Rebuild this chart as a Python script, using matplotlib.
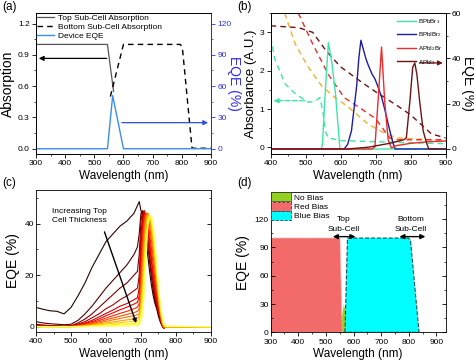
"""
plot.py

Four-panel figure: tandem sub-cell absorption / EQE (a), perovskite absorbance
and EQE (b), EQE vs top cell thickness (c) and bias-light EQE sketch (d).
"""

import matplotlib
matplotlib.use("Agg")
import matplotlib.pyplot as plt
from matplotlib.patches import Patch
from matplotlib.ticker import MultipleLocator

plt.rcParams["font.family"] = ["Liberation Sans", "DejaVu Sans"]
plt.rcParams["mathtext.default"] = "regular"

# ---------------- panel (a) ----------------
a_top_wl = [300, 545, 566]
a_top_abs = [1.0, 1.0, 0.55]
a_bot_wl = [555, 600, 795, 802, 835, 840, 900]
a_bot_abs = [0.5, 1.0, 1.0, 0.97, 0.01, 0.005, 0.005]
a_eqe_wl = [300, 545, 563, 600, 900]
a_eqe = [0, 0, 51, 0, 0]
a_left_arrow = [552, 300, 0.866]     # from, to, level (absorption)
a_right_arrow = [585, 900, 25]       # from, to, level (EQE %)

# ---------------- panel (b) ----------------
b_labels = ["BPbBr$_3$", "BPbIBr$_2$", "APbI$_2$Br", "APbI$_3$"]
b_colors = ["#3ce6a6", "#1c1ca8", "#ee2a2a", "#6e1414"]

b_abs_green_wl = [400, 412, 441, 470, 507, 527, 541, 550, 557, 565, 600, 700, 800, 900]
b_abs_green = [2.88, 2.3, 1.66, 1.4, 1.18, 1.2, 1.3, 0.9, 0.4, 0.25, 0.18, 0.15, 0.12, 0.1]
b_abs_orange_wl = [440, 470, 507, 546, 584, 622, 680, 720, 760, 900]
b_abs_orange = [3.5, 2.7, 2.1, 1.6, 1.3, 1.05, 0.6, 0.4, 0.25, 0.18]
b_abs_red_wl = [479, 520, 565, 610, 660, 700, 720, 740, 760, 900]
b_abs_red = [3.5, 2.7, 1.9, 1.3, 1.0, 0.75, 0.5, 0.25, 0.2, 0.2]
b_abs_maroon_wl = [400, 480, 520, 560, 600, 660, 700, 760, 800, 830, 860, 900]
b_abs_maroon = [3.17, 3.12, 3.0, 2.5, 2.1, 1.7, 1.45, 1.1, 0.85, 0.6, 0.35, 0.25]

b_eqe_green_wl = [400, 545, 548, 556, 565, 575, 585, 598, 900]
b_eqe_green = [0, 0, 2, 25, 47, 38, 25, 0, 0]
b_eqe_blue_wl = [400, 610, 620, 631, 646, 652, 658, 665, 672, 679, 690, 698, 708, 717,
                 727, 736, 744, 750, 756, 900]
b_eqe_blue = [0, 0, 2, 8, 28, 40, 48, 44, 40, 37, 33, 31, 27, 23, 17, 11, 6, 2.5, 0, 0]
b_eqe_red_wl = [400, 690, 698, 707, 717, 726, 736, 745, 760, 800, 850, 900]
b_eqe_red = [0, 0, 1, 21, 45, 21, 4, 0.5, 1.5, 2.5, 3.2, 3.5]
b_eqe_maroon_wl = [400, 620, 680, 740, 780, 788, 798, 806, 812, 818, 826, 836, 845,
                   852, 900]
b_eqe_maroon = [0, 0, 0.8, 2.5, 4, 5, 21, 36, 38, 33, 21, 8, 3, 0, 0]
b_green_arrow = [505, 400, 1.22]     # absorbance axis
b_maroon_arrow = [818, 900, 38]      # EQE axis

# ---------------- panel (c) ----------------
c_wl = [400, 420, 440, 460, 480, 500, 520, 540, 560, 580, 600, 620, 640, 660, 680, 690,
        695, 700, 705, 710, 715, 720, 725, 730, 735, 740, 745, 750, 755, 760, 765, 770, 900]
c_eqe = [
    [7.5, 6.8, 6.2, 6.0, 5.0, 7.5, 12, 17, 23, 28, 33, 36, 39, 41, 44, 47,
     48.5, 45, 43, 39, 33, 27, 21, 16, 12, 9, 7, 4, 2, 0.5, -0.5, 0, 0],
    [2.0, 1.5, 1.2, 1.0, 0.8, 1.0, 2.5, 5.0, 8.0, 11.5, 15, 18, 21, 24, 28, 31,
     36, 44, 45, 42, 37, 31, 25, 19, 14, 10, 7.5, 5, 2.5, 0.5, -0.5, 0, 0],
    [1.0, 0.7, 0.5, 0.4, 0.3, 0.4, 1.5, 3.0, 5.0, 7.5, 10, 12.5, 15, 17, 20, 21.5,
     28, 41, 45, 43, 38, 32, 26, 20, 15, 11, 8, 5, 2.5, 0.5, -0.5, 0, 0],
    [0.6, 0.4, 0.3, 0.2, 0.2, 0.3, 1.0, 2.0, 3.5, 5.0, 7.0, 8.5, 10.5, 12, 14, 15,
     20, 36, 44, 44, 40, 34, 28, 22, 17, 12, 9, 6, 3, 0.8, -0.5, 0, 0],
    [0.4, 0.3, 0.2, 0.2, 0.1, 0.2, 0.8, 1.5, 2.5, 3.8, 5.2, 6.5, 8.0, 9.0, 10.5, 11.3,
     15, 31, 42, 45, 42, 37, 31, 25, 19, 14, 10, 6.5, 3.5, 1, -0.5, 0, 0],
    [0.3, 0.2, 0.2, 0.1, 0.1, 0.2, 0.6, 1.2, 2.0, 3.0, 4.3, 5.4, 6.6, 7.6, 8.8, 9.5,
     12, 26, 39, 44, 43, 39, 33, 27, 21, 16, 11, 7, 4, 1, -0.5, 0, 0],
    [0.2, 0.2, 0.1, 0.1, 0.1, 0.1, 0.5, 1.0, 1.6, 2.4, 3.4, 4.3, 5.2, 6.0, 7.0, 7.6,
     9, 21, 35, 43, 44, 41, 36, 30, 24, 18, 13, 8, 4.5, 1.2, -0.5, 0, 0],
    [0.2, 0.1, 0.1, 0.1, 0.0, 0.1, 0.4, 0.8, 1.3, 1.9, 2.7, 3.4, 4.1, 4.8, 5.5, 6.0,
     7, 16, 30, 41, 44, 43, 39, 33, 27, 21, 15, 9.5, 5, 1.5, -0.3, 0, 0],
    [0.1, 0.1, 0.1, 0.0, 0.0, 0.1, 0.3, 0.6, 1.0, 1.5, 2.1, 2.7, 3.2, 3.8, 4.3, 4.7,
     5, 12, 25, 38, 43, 44, 41, 36, 30, 23, 17, 11, 6, 2, 0, 0, 0],
    [0.1, 0.1, 0.0, 0.0, 0.0, 0.0, 0.2, 0.4, 0.7, 1.1, 1.5, 1.9, 2.3, 2.7, 3.1, 3.4,
     4, 9, 20, 34, 42, 44, 42, 38, 32, 25, 18, 12, 6.5, 2.5, 0.2, 0, 0],
    [0.1, 0.0, 0.0, 0.0, 0.0, 0.0, 0.1, 0.3, 0.5, 0.8, 1.1, 1.3, 1.6, 1.9, 2.2, 2.4,
     3, 7, 16, 29, 40, 43, 43, 40, 34, 27, 20, 13, 7, 3, 0.5, 0, 0],
    [0.0, 0.0, 0.0, 0.0, 0.0, 0.0, 0.1, 0.2, 0.3, 0.5, 0.6, 0.8, 1.0, 1.1, 1.3, 1.4,
     2, 5, 12, 24, 36, 42, 43, 41, 36, 29, 21, 14, 8, 3.5, 0.8, 0, 0],
    [0.0, 0.0, 0.0, 0.0, 0.0, 0.0, 0.0, 0.1, 0.2, 0.3, 0.4, 0.5, 0.6, 0.7, 0.8, 0.8,
     1.2, 3, 8, 19, 32, 41, 43, 42, 38, 31, 23, 15, 8.5, 4, 1, 0.2, 0],
    [0.0, 0.0, 0.0, 0.0, 0.0, 0.0, 0.0, 0.0, 0.1, 0.1, 0.2, 0.2, 0.3, 0.3, 0.4, 0.4,
     0.6, 2, 5, 14, 28, 39, 43, 43, 39, 33, 25, 16, 9, 4.5, 1.2, 0.3, 0],
]
c_arrow = [593, 37.8, 689, 0.4]      # start x, start y, end x, end y

# ---------------- panel (d) ----------------
d_nobias_wl = [548, 563, 590]
d_nobias_eqe = [0, 30, 0]
d_red_wl = [300, 551, 559]
d_red_eqe = [100, 100, 0]
d_blue_wl = [569, 578, 798, 806, 837]
d_blue_eqe = [0, 100, 100, 98, 0]
d_top_arrow = [515, 617, 101.5]
d_bottom_arrow = [756, 870, 101.5]

TICK_FS = 6
XLABEL_FS = 8.5
YLABEL_FS = 10
EQE_BLUE = "#3030e0"


def style_axis(ax, mirror=False):
    for s in ax.spines.values():
        s.set_linewidth(0.6)
    ax.tick_params(which="major", direction="out", length=3, width=0.6,
                   labelsize=TICK_FS, pad=1.5)
    ax.tick_params(which="minor", direction="out", length=1.5, width=0.5)
    if mirror:
        ax.tick_params(which="both", top=True, right=True)


def plot_panel_a(ax):
    ax.plot(a_top_wl, a_top_abs, color="#555555", lw=0.9, label="Top Sub-Cell Absorption")
    ax.plot(a_bot_wl, a_bot_abs, color="black", lw=1.0, ls=(0, (4, 3)),
            label="Bottom Sub-Cell Absorption")
    ax.plot([], [], color="#3a8ee6", lw=1.0, label="Device EQE")
    ax.annotate("", xy=(a_left_arrow[1], a_left_arrow[2]), xytext=(a_left_arrow[0], a_left_arrow[2]),
                arrowprops=dict(arrowstyle="-|>", color="black", lw=0.9, mutation_scale=7),
                annotation_clip=False)
    ax.set_xlim(300, 900)
    ax.set_ylim(-0.05, 1.3)
    ax.xaxis.set_major_locator(MultipleLocator(100))
    ax.xaxis.set_minor_locator(MultipleLocator(50))
    ax.yaxis.set_major_locator(MultipleLocator(0.3))
    ax.yaxis.set_minor_locator(MultipleLocator(0.15))
    ax.yaxis.set_major_formatter(plt.FormatStrFormatter("%.1f"))
    style_axis(ax)
    ax.set_xlabel("Wavelength (nm)", fontsize=XLABEL_FS, labelpad=2)
    ax.set_ylabel("Absorption", fontsize=YLABEL_FS, labelpad=2)
    ax.legend(loc="upper left", frameon=False, fontsize=6, handlelength=2.0,
              handletextpad=0.5, labelspacing=0.15, borderaxespad=0.05, borderpad=0.1)

    ax2 = ax.twinx()
    ax2.plot(a_eqe_wl, a_eqe, color="#3a8ee6", lw=1.0)
    ax2.annotate("", xy=(a_right_arrow[1], a_right_arrow[2]), xytext=(a_right_arrow[0], a_right_arrow[2]),
                 arrowprops=dict(arrowstyle="-|>", color="#2f4fd6", lw=0.9, mutation_scale=7),
                 annotation_clip=False)
    ax2.set_ylim(-5, 130)
    ax2.yaxis.set_major_locator(MultipleLocator(30))
    ax2.yaxis.set_minor_locator(MultipleLocator(15))
    style_axis(ax2)
    ax2.spines["right"].set_color(EQE_BLUE)
    ax2.tick_params(axis="y", which="both", colors=EQE_BLUE)
    ax2.set_ylabel("EQE (%)", fontsize=YLABEL_FS, color=EQE_BLUE, rotation=270, labelpad=7)


def plot_panel_b(ax):
    dash = (0, (4, 3))
    ax.plot(b_abs_green_wl, b_abs_green, color=b_colors[0], lw=1.0, ls=dash)
    ax.plot(b_abs_orange_wl, b_abs_orange, color="#f2b02c", lw=1.0, ls=dash)
    ax.plot(b_abs_red_wl, b_abs_red, color=b_colors[2], lw=1.0, ls=dash)
    ax.plot(b_abs_maroon_wl, b_abs_maroon, color=b_colors[3], lw=1.0, ls=dash)
    ax.annotate("", xy=(b_green_arrow[1], b_green_arrow[2]), xytext=(b_green_arrow[0], b_green_arrow[2]),
                arrowprops=dict(arrowstyle="-|>", color=b_colors[0], lw=1.0, ls="--",
                                mutation_scale=7),
                annotation_clip=False)
    ax.set_xlim(400, 900)
    ax.set_ylim(-0.17, 3.5)
    ax.xaxis.set_major_locator(MultipleLocator(100))
    ax.xaxis.set_minor_locator(MultipleLocator(50))
    ax.yaxis.set_major_locator(MultipleLocator(1))
    ax.yaxis.set_minor_locator(MultipleLocator(0.5))
    style_axis(ax)
    ax.set_xlabel("Wavelength (nm)", fontsize=XLABEL_FS, labelpad=2)
    ax.set_ylabel("Absorbance (A.U.)", fontsize=YLABEL_FS - 0.5, labelpad=2)

    ax2 = ax.twinx()
    series = [(b_eqe_green_wl, b_eqe_green), (b_eqe_blue_wl, b_eqe_blue),
              (b_eqe_red_wl, b_eqe_red), (b_eqe_maroon_wl, b_eqe_maroon)]
    for (wl, eqe), col, lab in zip(series, b_colors, b_labels):
        ax2.plot(wl, eqe, color=col, lw=1.0, label=lab)
    ax2.annotate("", xy=(b_maroon_arrow[1], b_maroon_arrow[2]), xytext=(b_maroon_arrow[0], b_maroon_arrow[2]),
                 arrowprops=dict(arrowstyle="-|>", color=b_colors[3], lw=0.9, mutation_scale=7),
                 annotation_clip=False)
    ax2.set_ylim(-2.2, 60)
    ax2.yaxis.set_major_locator(MultipleLocator(20))
    ax2.yaxis.set_minor_locator(MultipleLocator(10))
    style_axis(ax2)
    ax2.set_ylabel("EQE (%)", fontsize=YLABEL_FS, rotation=270, labelpad=10)
    ax2.legend(loc="upper right", frameon=False, fontsize=4.5, handlelength=3.0,
               handletextpad=0.3, labelspacing=0.75, borderaxespad=0.2)


def plot_panel_c(ax):
    colors = plt.cm.hot([0.05 + 0.8 * i / (len(c_eqe) - 1) for i in range(len(c_eqe))])
    for eqe, col in zip(c_eqe, colors):
        ax.plot(c_wl, eqe, color=col, lw=0.8)
    ax.annotate("", xy=(c_arrow[2], c_arrow[3]), xytext=(c_arrow[0], c_arrow[1]),
                arrowprops=dict(arrowstyle="-|>", color="black", lw=1.0, mutation_scale=6))
    ax.text(446, 43, "Increasing Top\nCell Thickness", fontsize=6, va="center", ha="left",
            linespacing=1.3)
    ax.set_xlim(400, 900)
    ax.set_ylim(-2, 53)
    ax.xaxis.set_major_locator(MultipleLocator(100))
    ax.xaxis.set_minor_locator(MultipleLocator(50))
    ax.yaxis.set_major_locator(MultipleLocator(20))
    ax.yaxis.set_minor_locator(MultipleLocator(10))
    style_axis(ax)
    ax.tick_params(which="both", right=True)
    ax.tick_params(axis="y", which="both", direction="in")
    ax.set_xlabel("Wavelength (nm)", fontsize=XLABEL_FS, labelpad=2)
    ax.set_ylabel("EQE (%)", fontsize=YLABEL_FS, labelpad=3)


def plot_panel_d(ax):
    ax.fill_between(d_nobias_wl, d_nobias_eqe, 0, color="#92d21e", lw=0)
    ax.fill_between(d_red_wl, d_red_eqe, 0, facecolor="#f26a6a", edgecolor="#f7b0b0",
                    lw=0.6, ls="--")
    ax.fill_between(d_blue_wl, d_blue_eqe, 0, facecolor="#00ffff", edgecolor="#1d4f4f",
                    lw=0.8, ls="--")
    for arrow in (d_top_arrow, d_bottom_arrow):
        ax.annotate("", xy=(arrow[1], arrow[2]), xytext=(arrow[0], arrow[2]),
                    arrowprops=dict(arrowstyle="<|-|>", color="black", lw=1.0, mutation_scale=7))
    ax.text(563, 120, "Top", fontsize=6, ha="center", va="center")
    ax.text(563, 109.5, "Sub-Cell", fontsize=6, ha="center", va="center")
    ax.text(807, 120, "Bottom", fontsize=6, ha="center", va="center")
    ax.text(807, 109.5, "Sub-Cell", fontsize=6, ha="center", va="center")

    handles = [Patch(facecolor="#92d21e", edgecolor="#333333", lw=0.5),
               Patch(facecolor="#f26a6a", edgecolor="#6b2020", lw=0.6, ls="--"),
               Patch(facecolor="#00ffff", edgecolor="#1d4f4f", lw=0.6, ls="--")]
    ax.legend(handles, ["No Bias", "Red Bias", "Blue Bias"], loc="upper left",
              frameon=False, fontsize=6, handlelength=2.4, handleheight=1.3,
              handletextpad=0.4, labelspacing=0.0, borderaxespad=0.0, borderpad=0.05)
    ax.set_xlim(300, 933)
    ax.set_ylim(0, 149)
    ax.xaxis.set_major_locator(MultipleLocator(100))
    ax.xaxis.set_minor_locator(MultipleLocator(50))
    ax.yaxis.set_major_locator(MultipleLocator(30))
    ax.yaxis.set_minor_locator(MultipleLocator(15))
    style_axis(ax)
    ax.tick_params(which="both", right=True)
    ax.tick_params(axis="y", which="both", direction="in")
    ax.set_xlabel("Wavelength (nm)", fontsize=XLABEL_FS, labelpad=2)
    ax.set_ylabel("EQE (%)", fontsize=YLABEL_FS, labelpad=3)


def main():
    fig = plt.figure(figsize=(4.74, 3.64), dpi=100)
    ax_a = fig.add_axes([0.076, 0.577, 0.369, 0.387])
    ax_b = fig.add_axes([0.571, 0.577, 0.369, 0.387])
    ax_c = fig.add_axes([0.076, 0.088, 0.369, 0.390])
    ax_d = fig.add_axes([0.571, 0.087, 0.369, 0.386])

    plot_panel_a(ax_a)
    plot_panel_b(ax_b)
    plot_panel_c(ax_c)
    plot_panel_d(ax_d)

    for x, y, lab in [(0.004, 0.998, "(a)"), (0.5, 0.998, "(b)"),
                      (0.004, 0.515, "(c)"), (0.5, 0.515, "(d)")]:
        fig.text(x, y, lab, fontsize=8.5, va="top", ha="left")

    fig.savefig("out.png", dpi=100)
    plt.close(fig)


if __name__ == "__main__":
    main()
